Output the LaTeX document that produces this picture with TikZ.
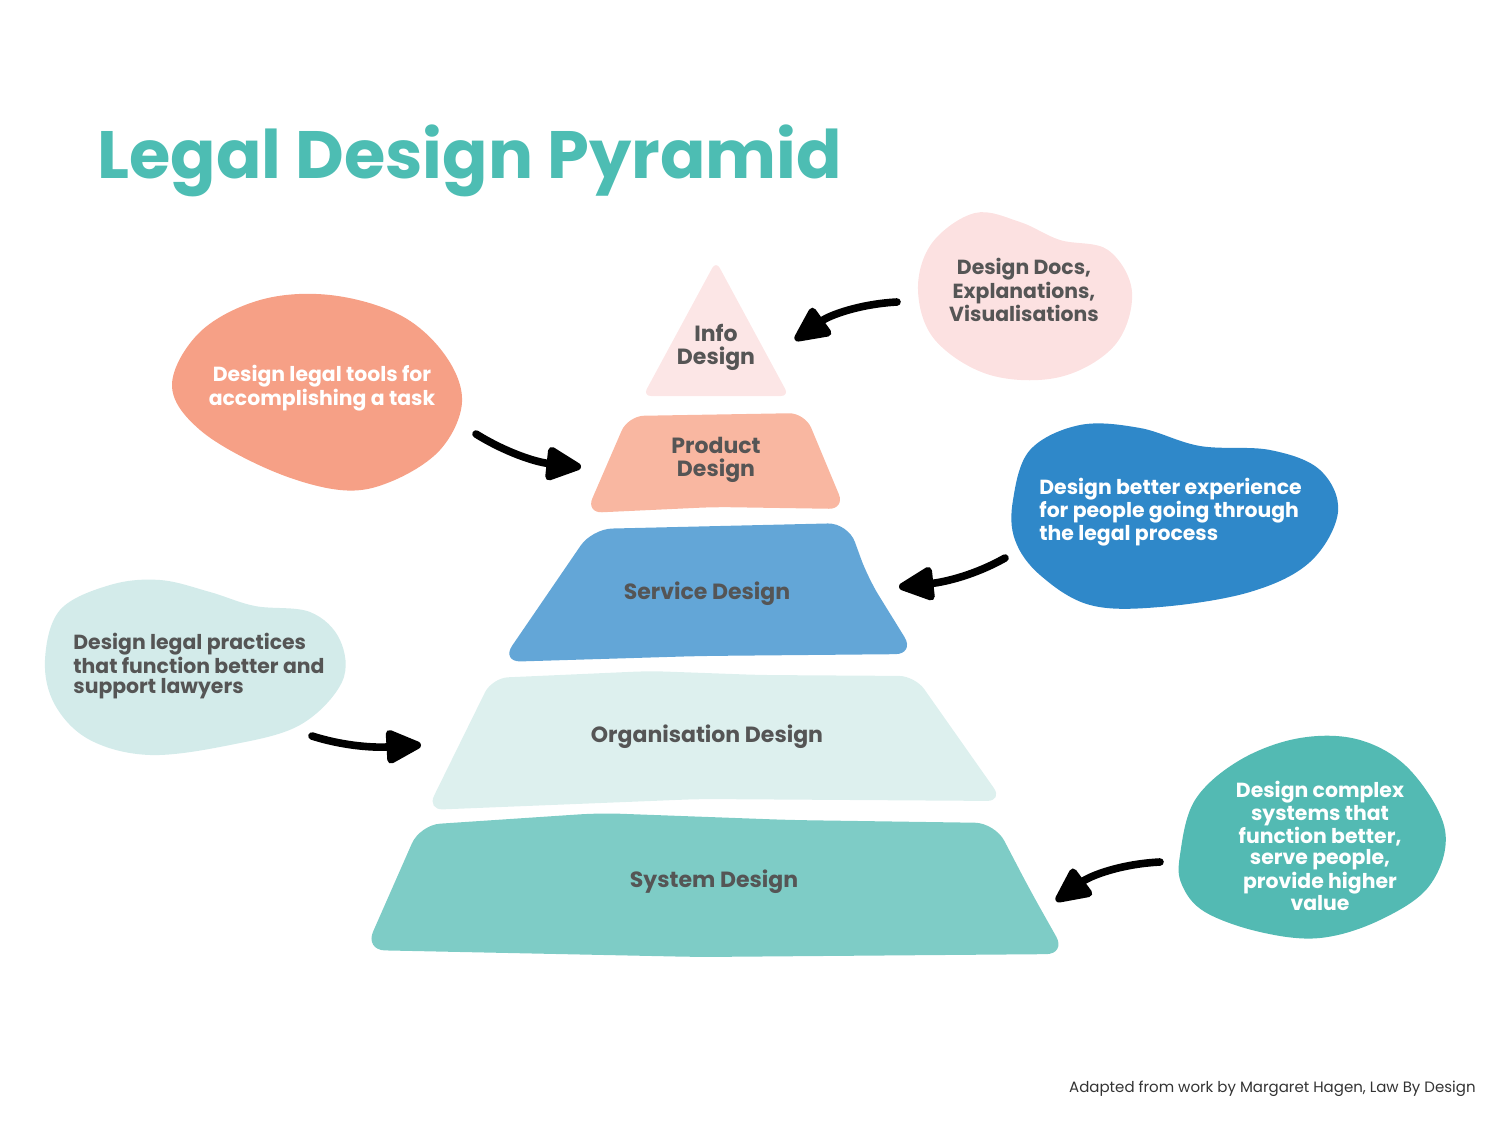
\documentclass[tikz,border=0pt]{standalone}
\usepackage{fontspec}
\setmainfont{Poppins}
\usepackage{xcolor}
\usetikzlibrary{arrows.meta,positioning}

\definecolor{titleteal}{HTML}{4DBDB3}
\definecolor{infopink}{HTML}{FCE6E6}
\definecolor{docspink}{HTML}{FCE1E1}
\definecolor{productsalmon}{HTML}{F9B7A1}
\definecolor{toolssalmon}{HTML}{F6A086}
\definecolor{serviceblue}{HTML}{63A6D7}
\definecolor{experienceblue}{HTML}{2F88C9}
\definecolor{orgmint}{HTML}{DDF0EE}
\definecolor{practicemint}{HTML}{D3EBEA}
\definecolor{systemteal}{HTML}{7ECCC6}
\definecolor{complexteal}{HTML}{53BAB3}
\definecolor{labelgray}{HTML}{555555}

\begin{document}
\begin{tikzpicture}[x={(0.5pt,0)},y={(0,-0.5pt)},
    blob/.style={smooth cycle,tension=0.6},
    lvl/.style={text=labelgray,font=\fontsize{11}{11.5}\selectfont\bfseries,align=center,inner sep=0pt},
    note/.style={font=\fontsize{10.2}{10.3}\selectfont\bfseries,inner sep=0pt},
    brush/.style={line width=3.8pt,line cap=round,-{Triangle[length=20pt,width=18pt,round]}}]
      \useasboundingbox (0,0) rectangle (1500,1125);

      % pyramid
      \fill[infopink,rounded corners=4pt] (643,396) -- (716,261) -- (789,396) -- cycle;
      \fill[productsalmon,rounded corners=8pt] (586,513) -- (628,416) -- (805,413) -- (845,509) -- (715,507) -- cycle;
      \fill[serviceblue,rounded corners=10pt] (501,662) -- (592,529) -- (848,523) -- (868,578) -- (915,654) -- (700,656) -- cycle;
      \fill[orgmint,rounded corners=8pt] (427,810) -- (492,678) -- (650,671) -- (760,675) -- (915,676) -- (1003,801) -- (700,799) -- cycle;
      \fill[systemteal,rounded corners=10pt] (365,950) -- (420,825) -- (600,813) -- (790,820) -- (995,823) -- (1030,890) -- (1066,954) -- (700,957) -- cycle;

      \node[lvl] (info) at (716,347) {Info\\Design};
      \node[lvl] (product) at (716,460) {Product\\Design};
      \node[lvl] (service) at (707,594) {Service Design};
      \node[lvl] (organisation) at (707,737) {Organisation Design};
      \node[lvl] (system) at (714,882) {System Design};

      % blobs
      \fill[docspink] plot[blob] coordinates {(918,290) (932,243) (975,213) (1020,222) (1060,240) (1108,250) (1132,292) (1115,345) (1060,377) (990,375) (935,340)};
      \fill[toolssalmon] plot[blob] coordinates {(172,385) (200,332) (260,300) (330,295) (400,315) (445,355) (462,402) (440,450) (390,482) (340,490) (270,470) (200,430)};
      \fill[experienceblue] plot[blob] coordinates {(1013,500) (1030,450) (1080,425) (1140,428) (1200,446) (1270,450) (1320,470) (1338,512) (1310,562) (1250,592) (1160,607) (1090,605) (1040,575) (1015,540)};
      \fill[practicemint] plot[blob] coordinates {(45,660) (60,610) (110,585) (160,580) (210,592) (255,606) (310,612) (340,640) (342,682) (300,725) (230,745) (150,755) (90,740) (55,705)};
      \fill[complexteal] plot[blob] coordinates {(1180,855) (1195,800) (1240,760) (1300,738) (1360,740) (1410,770) (1445,830) (1430,885) (1380,920) (1320,938) (1260,932) (1205,912) (1182,885)};

      \node[note,text=labelgray,align=center] (docs) at (1024,290) {Design Docs,\\Explanations,\\Visualisations};
      \node[note,text=white,align=center] (tools) at (322,388) {Design legal tools for\\accomplishing a task};
      \node[note,text=white,align=left,anchor=west] (experience) at (1039,512) {Design better experience\\for people going through\\the legal process};
      \node[note,text=labelgray,align=left,anchor=west] (practices) at (73,666) {Design legal practices\\that function better and\\support lawyers};
      \node[note,text=white,align=center] (complex) at (1320,846) {Design complex\\systems that\\function better,\\serve people,\\provide higher\\value};

      % arrow ends
      \coordinate (docsTail) at (897,302);
      \coordinate (infoTip) at (795,340);
      \coordinate (toolsTail) at (476,434);
      \coordinate (productTip) at (581,467);
      \coordinate (experienceTail) at (1005,558);
      \coordinate (serviceTip) at (899,587);
      \coordinate (practicesTail) at (312,736);
      \coordinate (organisationTip) at (421,745);
      \coordinate (complexTail) at (1160,862);
      \coordinate (systemTip) at (1056,901);

      \draw[brush] (docsTail) .. controls (860,304) and (830,315) .. (infoTip);
      \draw[brush] (toolsTail) .. controls (505,452) and (535,462) .. (productTip);
      \draw[brush] (experienceTail) .. controls (975,575) and (945,582) .. (serviceTip);
      \draw[brush] (practicesTail) .. controls (340,745) and (370,748) .. (organisationTip);
      \draw[brush] (complexTail) .. controls (1120,864) and (1090,876) .. (systemTip);

      \node[anchor=west,text=titleteal,font=\fontsize{33.5}{38}\selectfont\bfseries,inner sep=0pt] (title) at (97,161) {Legal Design Pyramid};
      \node[anchor=east,text=black!80,font=\fontsize{7.5}{8.5}\selectfont,inner sep=0pt] (credit) at (1476,1089) {Adapted from work by Margaret Hagen, Law By Design};
    \end{tikzpicture}
\end{document}
